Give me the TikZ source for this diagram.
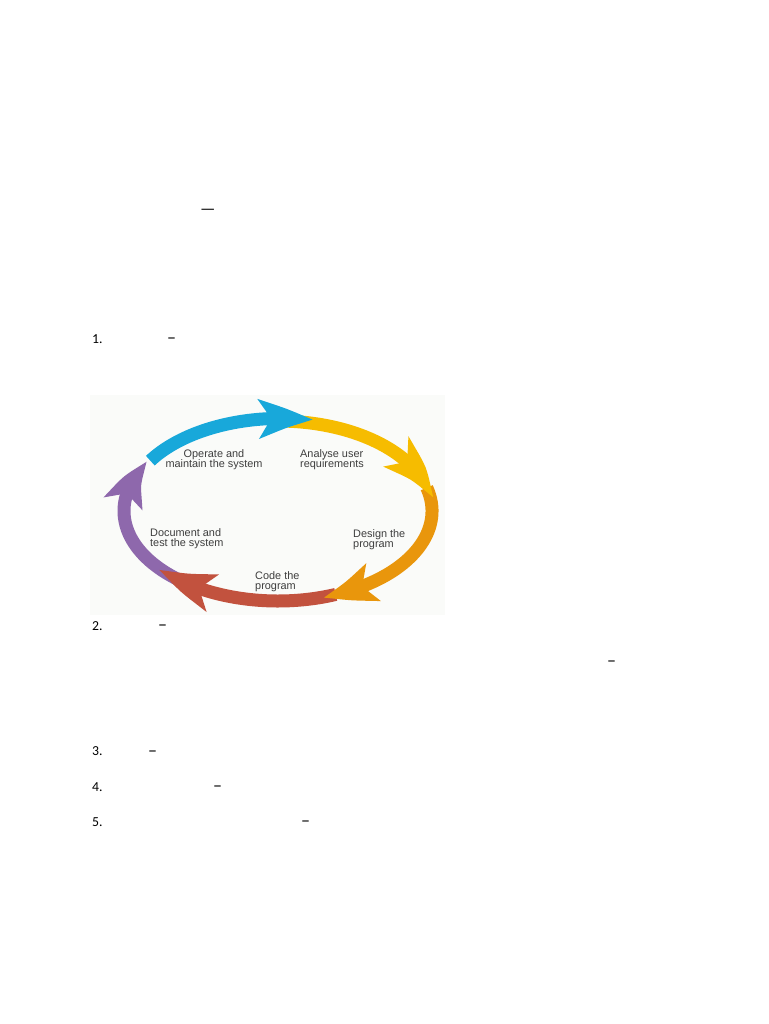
\documentclass[tikz,border=0pt]{standalone}
\usepackage{fontspec}
\setmainfont{Carlito}
\newfontfamily\arialfont{Liberation Sans}
\usetikzlibrary{arrows.meta,bending,positioning}
\definecolor{cycblue}{RGB}{24,168,218}
\definecolor{cycyellow}{RGB}{246,188,0}
\definecolor{cycorange}{RGB}{233,150,12}
\definecolor{cycred}{RGB}{194,82,62}
\definecolor{cycpurple}{RGB}{142,104,172}
\definecolor{labelgray}{RGB}{62,62,62}
\definecolor{picbg}{RGB}{250,251,249}
\tikzset{
  phase/.style={line width=13pt, -{Stealth[length=54pt,width=38pt,inset=12pt,bend]}},
  stagetext/.style={font=\arialfont\fontsize{10.9}{10.2}\selectfont, text=labelgray, inner sep=0pt},
  itemno/.style={font=\fontsize{13.75}{16}\selectfont, anchor=base west, inner sep=0pt},
  itemdash/.style={font=\fontsize{18}{18}\selectfont, anchor=base west, inner sep=0pt}
}

\begin{document}
\begin{tikzpicture}[x=1pt,y=-1pt]
  \useasboundingbox (0,0) rectangle (768,1024);
  \fill[white] (0,0) rectangle (768,1024);

  % text lines of the page
  \node[itemdash, font=\fontsize{17}{18}\selectfont] (dashA) at (200,214.5) {---};
  \node[itemno] (item1) at (92,343) {1.};
  \node[itemdash] (dash1) at (167,343.5) {--};
  \node[itemno] (item2) at (92,630) {2.};
  \node[itemdash] (dash2) at (158,630.5) {--};
  \node[itemdash] (dashB) at (607,666.5) {--};
  \node[itemno] (item3) at (92,755.5) {3.};
  \node[itemdash] (dash3) at (148,756) {--};
  \node[itemno] (item4) at (92,791) {4.};
  \node[itemdash] (dash4) at (213,791.5) {--};
  \node[itemno] (item5) at (92,826) {5.};
  \node[itemdash] (dash5) at (301,826.5) {--};

  % the cycle picture
  \fill[picbg] (90,395) rectangle (445,615);
  \coordinate (c) at (278,511);
  \path (c) ++(-146:154 and 90) coordinate (opS);
  \path (c) ++(-88:154 and 90) coordinate (anS);
  \path (c) ++(-15:154 and 90) coordinate (deS);
  \path (c) ++(68:154 and 90) coordinate (coS);
  \path (c) ++(128:154 and 90) coordinate (dcS);

  \draw[phase, cycpurple] (dcS) arc[start angle=128, end angle=213, x radius=154, y radius=90];
  \draw[phase, cycred] (coS) arc[start angle=68, end angle=140, x radius=154, y radius=90];
  \draw[phase, cycorange] (deS) arc[start angle=-15, end angle=73, x radius=154, y radius=90];
  \draw[phase, cycyellow] (anS) arc[start angle=-88, end angle=-8, x radius=154, y radius=90];
  \draw[phase, cycblue] (opS) arc[start angle=-148, end angle=-78, x radius=154, y radius=90];

  \node[stagetext, align=center] (operate) at (214,460) {Operate and\\maintain the system};
  \node[stagetext, align=left, anchor=west] (analyse) at (300,460) {Analyse user\\requirements};
  \node[stagetext, align=left, anchor=west] (design) at (353,540) {Design the\\program};
  \node[stagetext, align=left, anchor=west] (code) at (255,582) {Code the\\program};
  \node[stagetext, align=left, anchor=west] (document) at (150,539) {Document and\\test the system};
\end{tikzpicture}
\end{document}
